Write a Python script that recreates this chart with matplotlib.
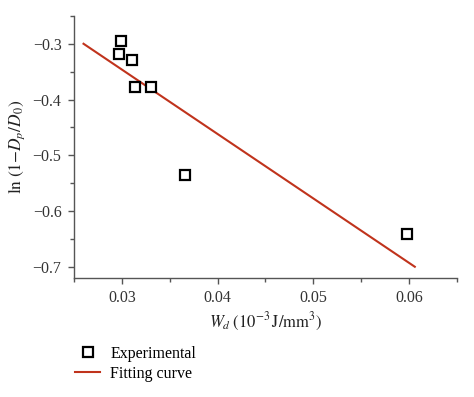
import numpy as np
import matplotlib
matplotlib.use("Agg")
import matplotlib.pyplot as plt
from matplotlib.ticker import MultipleLocator

### Data ###
wd_exp = [0.0299, 0.0297, 0.0311, 0.0314, 0.0330, 0.0366, 0.0598]
ln_exp = [-0.295, -0.319, -0.329, -0.378, -0.378, -0.535, -0.642]
wd_fit = [0.0260, 0.0606]
ln_fit = [-0.300, -0.700]
############

plt.rcParams['font.family'] = ['Liberation Serif', 'DejaVu Serif']
plt.rcParams['mathtext.fontset'] = 'stix'
plt.rcParams['font.size'] = 11

fig = plt.figure(figsize=(4.74, 3.97), dpi=100)
ax = fig.add_axes([0.156, 0.300, 0.808, 0.660])

ax.plot(wd_fit, ln_fit, color='#c0331c', lw=1.5, label='Fitting curve', zorder=2)
ax.plot(wd_exp, ln_exp, ls='none', marker='s', ms=6.5, mfc='white', mec='black',
        mew=1.6, label='Experimental', zorder=3)

ax.set_xlim(0.025, 0.065)
ax.set_ylim(-0.72, -0.25)
ax.xaxis.set_major_locator(MultipleLocator(0.01))
ax.xaxis.set_minor_locator(MultipleLocator(0.005))
ax.yaxis.set_major_locator(MultipleLocator(0.1))
ax.yaxis.set_minor_locator(MultipleLocator(0.05))
ax.xaxis.set_major_formatter(plt.FuncFormatter(lambda v, p: f"{v:.2f}"))
ax.yaxis.set_major_formatter(plt.FuncFormatter(lambda v, p: f"{v:.1f}".replace('-', '\u2212')))

for s in ['top', 'right']:
    ax.spines[s].set_visible(False)
for s in ['left', 'bottom']:
    ax.spines[s].set_color('#555555')
    ax.spines[s].set_linewidth(1.0)
ax.tick_params(which='major', direction='out', length=4, width=1, color='#555555',
               labelsize=11.5, labelcolor='#333333', pad=5)
ax.tick_params(which='minor', direction='out', length=3, width=1, color='#555555')

ax.set_xlabel(r'$W_d\;(10^{-3}\,\mathrm{J/mm^3})$', fontsize=12, color='#222222', labelpad=3)
ax.set_ylabel(r'$\mathrm{ln}\;(1\mathrm{-}D_p/D_0)$', fontsize=12.5, color='#222222', labelpad=4)

h, l = ax.get_legend_handles_labels()
fig.legend(h[::-1], l[::-1], loc='upper left', bbox_to_anchor=(0.145, 0.145),
           frameon=False, fontsize=11.5, handlelength=1.57, handletextpad=0.63,
           labelspacing=0.25, borderaxespad=0)

fig.savefig('out.png', dpi=100, facecolor='white')
